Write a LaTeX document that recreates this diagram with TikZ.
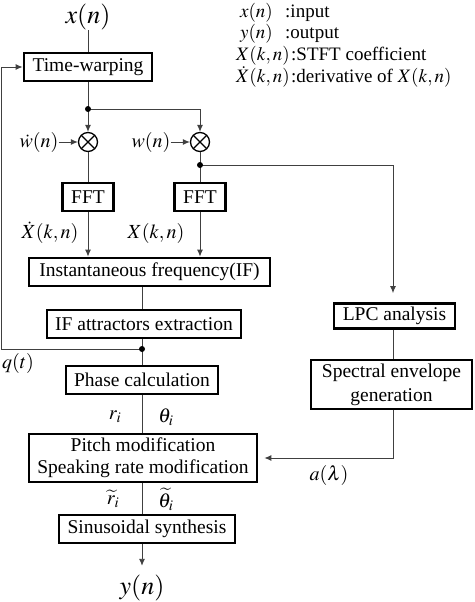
\documentclass[tikz,border=0pt]{standalone}
\usepackage{mathptmx}
\usepackage{fontspec}
\setmainfont{Liberation Serif}
\usetikzlibrary{arrows.meta}
\begin{document}
\begin{tikzpicture}[x=1pt,y=-1pt,
  blk/.style={draw=black,line width=2.8pt,inner sep=0pt,align=center,font=\fontsize{19.5}{22}\selectfont,fill=white},
  con/.style={draw=black!75,line width=0.9pt},
  arr/.style={con,-{Latex[length=7pt,width=6pt]}},
  lbl/.style={inner sep=0pt,font=\fontsize{20}{22}\selectfont},
  big/.style={inner sep=0pt,font=\fontsize{26}{28}\selectfont},
  leg/.style={inner sep=0pt,font=\fontsize{19}{22}\selectfont},
  dotj/.style={circle,fill=black,inner sep=0pt,minimum size=6pt},
  mult/.style={circle,draw=black,line width=1.3pt,minimum size=19pt,inner sep=0pt,
    path picture={\draw[line width=1.3pt] (path picture bounding box.south west)--(path picture bounding box.north east)
      (path picture bounding box.north west)--(path picture bounding box.south east);}}
]
\useasboundingbox (0,0) rectangle (474,602);

% top input / output
\node[big] (xn) at (88,17) {$x(n)$};
\node[big] (yn) at (142,588) {$y(n)$};

% legend
\node[leg,anchor=base east] (l1) at (273,18) {$x(n)$};
\node[leg,anchor=base west] (d1) at (285,18) {:input};
\node[leg,anchor=base east] (l2) at (273,38) {$y(n)$};
\node[leg,anchor=base west] (d2) at (285,38) {:output};
\node[leg,anchor=base east] (l3) at (290,60) {$X(k,n)$};
\node[leg,anchor=base west] (d3) at (291,60) {:STFT coefficient};
\node[leg,anchor=base east] (l4) at (290,82) {$\dot{X}(k,n)$};
\node[leg,anchor=base west] (d4) at (291,82) {:derivative of $X(k,n)$};

% blocks
\node[blk,minimum width=128pt,minimum height=28pt] (TW) at (88,67) {Time-warping};
\node[mult] (m1) at (88,142) {};
\node[mult] (m2) at (200,142) {};
\node[blk,minimum width=51pt,minimum height=28pt] (F1) at (88,197) {FFT};
\node[blk,minimum width=51pt,minimum height=28pt] (F2) at (200,197) {FFT};
\node[blk,minimum width=241pt,minimum height=28pt] (IF) at (149.5,272) {Instantaneous frequency(IF)};
\node[blk,minimum width=194pt,minimum height=28pt] (IFA) at (144,324) {IF attractors extraction};
\node[blk,minimum width=152pt,minimum height=28pt] (PH) at (142,380) {Phase calculation};
\node[blk,minimum width=228pt,minimum height=48pt] (PM) at (143,458) {Pitch modification\\Speaking rate modification};
\node[blk,minimum width=176pt,minimum height=28pt] (SS) at (147,529) {Sinusoidal synthesis};
\node[blk,minimum width=121pt,minimum height=25pt] (LPC) at (394.5,316) {LPC analysis};
\node[blk,minimum width=161pt,minimum height=49pt] (SE) at (391.5,384.5) {Spectral envelope\\[2pt]generation};

% labels
\node[lbl] (wd) at (39,142) {$\dot{w}(n)$};
\node[lbl] (w) at (151,142) {$w(n)$};
\node[lbl] (Xd) at (50,233) {$\dot{X}(k,n)$};
\node[lbl] (X) at (156,233) {$X(k,n)$};
\node[lbl] (q) at (18,363) {$q(t)$};
\node[lbl] (r) at (115,417) {$r_i$};
\node[lbl] (th) at (166,417) {$\theta_i$};
\node[lbl] (rt) at (113,499) {$\widetilde{r}_i$};
\node[lbl] (tht) at (166,499) {$\widetilde{\theta}_i$};
\node[lbl] (a) at (329,475) {$a(\lambda)$};

% junctions
\coordinate (j1) at (88,109);
\coordinate (j3) at (200,165);
\coordinate (qj) at (142,349);
\coordinate (fb1) at (1,349);
\coordinate (fb2) at (1,67);
\coordinate (lt) at (393,165);
\coordinate (at) at (393,458);

% connectors
\draw[con] (xn) -- (TW);
\draw[con] (TW) -- (j1);
\draw[arr] (j1) -- (m1);
\draw[arr] (j1) -| (m2);
\draw[arr] (wd) -- (m1);
\draw[arr] (w) -- (m2);
\draw[con] (m1) -- (F1);
\draw[con] (m2) -- (F2);
\draw[con] (j3) -- (lt);
\draw[arr,shorten >=9pt] (lt) -- (LPC.north -| lt);
\draw[arr] (F1) -- (IF.north -| F1);
\draw[arr] (F2) -- (IF.north -| F2);
\draw[con] (IF.south -| qj) -- (IFA.north -| qj);
\draw[con] (IFA.south -| qj) -- (PH.north -| qj);
\draw[arr] (qj) -- (fb1) -- (fb2) -- (TW.west);
\draw[con] (PH.south -| qj) -- (PM.north -| qj);
\draw[con] (PM.south -| qj) -- (SS.north -| qj);
\draw[arr,shorten >=9pt] (SS.south -| qj) -- (yn);
\draw[con] (LPC.south -| lt) -- (SE.north -| lt);
\draw[arr,shorten >=6pt] (SE.south -| lt) -- (at) -- (PM.east |- at);

\node[dotj] at (j1) {};
\node[dotj] at (j3) {};
\node[dotj] at (qj) {};
\end{tikzpicture}
\end{document}
